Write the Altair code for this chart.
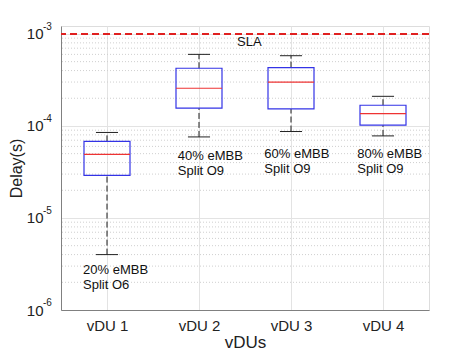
import altair as alt
import pandas as pd

# ---- data ----
vdu_pos = [1, 2, 3, 4]
vdu_names = ["vDU 1", "vDU 2", "vDU 3", "vDU 4"]
lower_whisker = [4.0e-6, 7.6e-5, 8.7e-5, 7.8e-5]
q1 = [2.9e-5, 1.56e-4, 1.53e-4, 1.02e-4]
median = [4.9e-5, 2.57e-4, 3.0e-4, 1.36e-4]
q3 = [6.8e-5, 4.24e-4, 4.3e-4, 1.68e-4]
upper_whisker = [8.5e-5, 6.0e-4, 5.8e-4, 2.1e-4]

sla_value = 1e-3
sla_label = "SLA"

annot_x = [0.74, 1.77, 2.71, 3.72]
annot_y = [2.46e-6, 4.3e-5, 4.45e-5, 4.45e-5]
annot_text = ["20% eMBB\nSplit O6", "40% eMBB\nSplit O9", "60% eMBB\nSplit O9", "80% eMBB\nSplit O9"]

decades = [1e-6, 1e-5, 1e-4, 1e-3]
exponents = ["-6", "-5", "-4", "-3"]
minor_grid = [k * 10.0 ** e for e in (-6, -5, -4) for k in range(2, 10)]

box_half = 0.25
cap_half = 0.12

df = pd.DataFrame({
    "pos": vdu_pos, "name": vdu_names, "lw": lower_whisker, "q1": q1,
    "med": median, "q3": q3, "uw": upper_whisker,
})

FONT = "Liberation Sans"
xscale = alt.Scale(domain=[0.5, 4.5], nice=False, zero=False)
yscale = alt.Scale(type="log", domain=[1e-6, 1.22e-3], nice=False)

x_axis = alt.Axis(values=vdu_pos, labelExpr="'vDU ' + datum.value", title="vDUs",
                  grid=True, gridColor="#e3e3e3", tickSize=0, labelPadding=8,
                  labelFontSize=15, titleFontSize=17, titleFontWeight="normal",
                  titlePadding=1, domainColor="#808080", labelColor="#222",
                  titleColor="#222", labelFont=FONT, titleFont=FONT)
y_axis = alt.Axis(values=decades, labelExpr="'10'", title="Delay(s)",
                  grid=True, gridColor="#e3e3e3", tickSize=0, labelPadding=18,
                  labelFontSize=15, titleFontSize=16, titleFontWeight="normal",
                  titlePadding=2, domainColor="#808080", labelColor="#222",
                  titleColor="#222", labelFont=FONT, titleFont=FONT)

base = alt.Chart(df)

minor = alt.Chart(pd.DataFrame({"v": minor_grid})).mark_rule(
    color="#cfcfcf", strokeDash=[1, 2], strokeWidth=1
).encode(
    y=alt.Y("v:Q", scale=yscale, axis=y_axis),
)

grid_frame = base.mark_point(opacity=0).encode(
    x=alt.X("pos:Q", scale=xscale, axis=x_axis),
    y=alt.Y("med:Q", scale=yscale, axis=y_axis),
)

upper_line = base.mark_rule(color="#1a1a1a", strokeDash=[6, 3], strokeWidth=1).encode(
    x="pos:Q", y="q3:Q", y2="uw:Q")
lower_line = base.mark_rule(color="#1a1a1a", strokeDash=[6, 3], strokeWidth=1).encode(
    x="pos:Q", y="lw:Q", y2="q1:Q")

caps = base.transform_calculate(
    cl=f"datum.pos - {cap_half}", cr=f"datum.pos + {cap_half}"
)
upper_cap = caps.mark_rule(color="#222", strokeWidth=1).encode(x="cl:Q", x2="cr:Q", y="uw:Q")
lower_cap = caps.mark_rule(color="#222", strokeWidth=1).encode(x="cl:Q", x2="cr:Q", y="lw:Q")

boxes = base.transform_calculate(
    bl=f"datum.pos - {box_half}", br=f"datum.pos + {box_half}"
)
box = boxes.mark_rect(fill=None, stroke="#3333e6", strokeWidth=1.2).encode(
    x="bl:Q", x2="br:Q", y="q1:Q", y2="q3:Q")
med = boxes.mark_rule(color="#ee3333", strokeWidth=1.2).encode(
    x="bl:Q", x2="br:Q", y="med:Q")

sla = alt.Chart(pd.DataFrame({"v": [sla_value]})).mark_rule(
    color="#e02020", strokeDash=[7, 4], strokeWidth=2
).encode(y="v:Q")

sla_text = alt.Chart(pd.DataFrame({"x": [2.413], "y": [7.4e-4], "t": [sla_label]})).mark_text(
    align="left", baseline="alphabetic", fontSize=13, font=FONT, color="#111"
).encode(x="x:Q", y="y:Q", text="t:N")

annots = alt.Chart(pd.DataFrame({"x": annot_x, "y": annot_y, "t": annot_text})).mark_text(
    align="left", baseline="alphabetic", fontSize=13, font=FONT, color="#111",
    lineBreak="\n", lineHeight=15
).encode(x="x:Q", y="y:Q", text="t:N")

exps = alt.Chart(pd.DataFrame({"x": [0.5] * 4, "y": decades, "t": exponents})).mark_text(
    align="left", baseline="alphabetic", fontSize=10, font=FONT, color="#222",
    dx=-18, dy=-4
).encode(x="x:Q", y="y:Q", text="t:N")

chart = alt.layer(
    grid_frame, minor, upper_line, lower_line, upper_cap, lower_cap,
    box, med, sla, sla_text, annots, exps
).properties(
    width=368, height=284,
    autosize=alt.AutoSizeParams(type="none"),
    padding={"left": 53, "top": 18, "right": 37, "bottom": 45},
).configure_view(
    stroke="#808080", strokeWidth=1
).configure(background="white")

chart.save("out.html", embed_options={"renderer": "svg", "actions": False})
